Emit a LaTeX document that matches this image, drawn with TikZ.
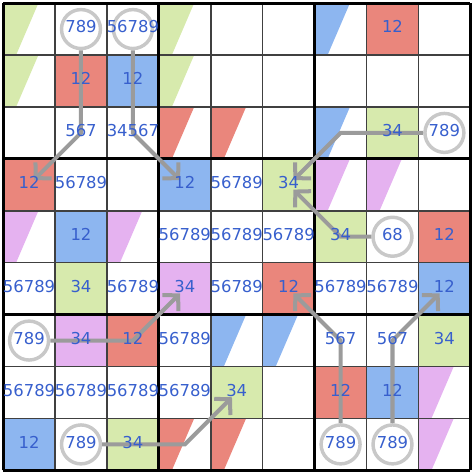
\documentclass[tikz,border=0pt]{standalone}
\usepackage{fontspec}
\setmainfont{DejaVu Sans}
\usetikzlibrary{arrows.meta}
\definecolor{cellred}{RGB}{234,134,124}
\definecolor{cellblue}{RGB}{141,182,240}
\definecolor{cellgreen}{RGB}{215,234,173}
\definecolor{cellpink}{RGB}{229,178,240}
\definecolor{digitblue}{RGB}{55,95,205}
\definecolor{ringgray}{RGB}{200,200,200}
\definecolor{linkgray}{RGB}{155,155,155}
\pgfdeclarelayer{back}
\pgfdeclarelayer{front}
\pgfsetlayers{back,main,front}
\tikzset{
  cand/.style={text=digitblue,font=\fontsize{9}{9}\selectfont,inner sep=1.5pt,text height=6.6pt,text depth=2.3pt},
  ring/.style={circle,draw=ringgray,line width=1.9pt,minimum size=.75cm,inner sep=0pt},
  link/.style={draw=linkgray,line width=2.2pt,shorten >=.13cm,-{Straight Barb[length=.21cm,width=.44cm]}}
}

\begin{document}
\begin{tikzpicture}
\useasboundingbox (-0.06,-0.06) rectangle (9.07,9.06);

\begin{pgfonlayer}{back}
% coloured cells, row/column counted from the top left
\foreach \r/\c/\col in {1/8/cellred,2/2/cellred,2/3/cellblue,3/8/cellgreen,4/1/cellred,4/4/cellblue,4/6/cellgreen,
    5/2/cellblue,5/7/cellgreen,5/9/cellred,6/2/cellgreen,6/4/cellpink,6/6/cellred,6/9/cellblue,7/2/cellpink,
    7/3/cellred,7/9/cellgreen,8/5/cellgreen,8/7/cellred,8/8/cellblue,9/1/cellblue,9/3/cellgreen}
  \fill[\col] (\c-1,9-\r) rectangle ++(1,1);
\foreach \r/\c/\col in {1/1/cellgreen,1/4/cellgreen,1/7/cellblue,2/1/cellgreen,2/4/cellgreen,3/4/cellred,3/5/cellred,
    3/7/cellblue,4/7/cellpink,4/8/cellpink,5/1/cellpink,5/3/cellpink,7/5/cellblue,7/6/cellblue,8/9/cellpink,
    9/4/cellred,9/5/cellred,9/9/cellpink}
  \fill[\col] (\c-1,9-\r) -- ++(.25,0) -- ++(.43,1) -- ++(-.68,0) -- cycle;
\draw[line width=.8pt,black!75] (0,0) grid (9,9);
\draw[line width=1.6pt] (0,0) grid[step=3] (9,9);
\end{pgfonlayer}

\begin{pgfonlayer}{front}
\foreach \r/\c/\t in {1/2/789,1/3/56789,1/8/12,2/2/12,2/3/12,3/2/567,3/3/34567,3/8/34,3/9/789,
    4/1/12,4/2/56789,4/4/12,4/5/56789,4/6/34,5/2/12,5/4/56789,5/5/56789,5/6/56789,5/7/34,5/8/68,5/9/12,
    6/1/56789,6/2/34,6/3/56789,6/4/34,6/5/56789,6/6/12,6/7/56789,6/8/56789,6/9/12,
    7/1/789,7/2/34,7/3/12,7/4/56789,7/7/567,7/8/567,7/9/34,
    8/1/56789,8/2/56789,8/3/56789,8/4/56789,8/5/34,8/7/12,8/8/12,
    9/1/12,9/2/789,9/3/34,9/7/789,9/8/789}
  \node[cand] (n\r\c) at (\c-.5,9.5-\r) {\t};
\end{pgfonlayer}

\foreach \r/\c in {1/2,1/3,3/9,5/8,7/1,9/2,9/7,9/8}
  \node[ring] (o\r\c) at (\c-.5,9.5-\r) {};
\coordinate (b37) at (6.5,6.5);
\coordinate (b94) at (3.5,.5);

\draw[link] (o12) -- (n32.center) -- (n41.center);
\draw[link] (o13) -- (n33.center) -- (n44.center);
\draw[link] (o39) -- (b37) -- (n46.center);
\draw[link] (o58) -- (n57.center) -- (n46.center);
\draw[link] (o71) -- (n73.center) -- (n64.center);
\draw[link] (o92) -- (b94) -- (n85.center);
\draw[link] (o97) -- (n77.center) -- (n66.center);
\draw[link] (o98) -- (n78.center) -- (n69.center);
\end{tikzpicture}
\end{document}
